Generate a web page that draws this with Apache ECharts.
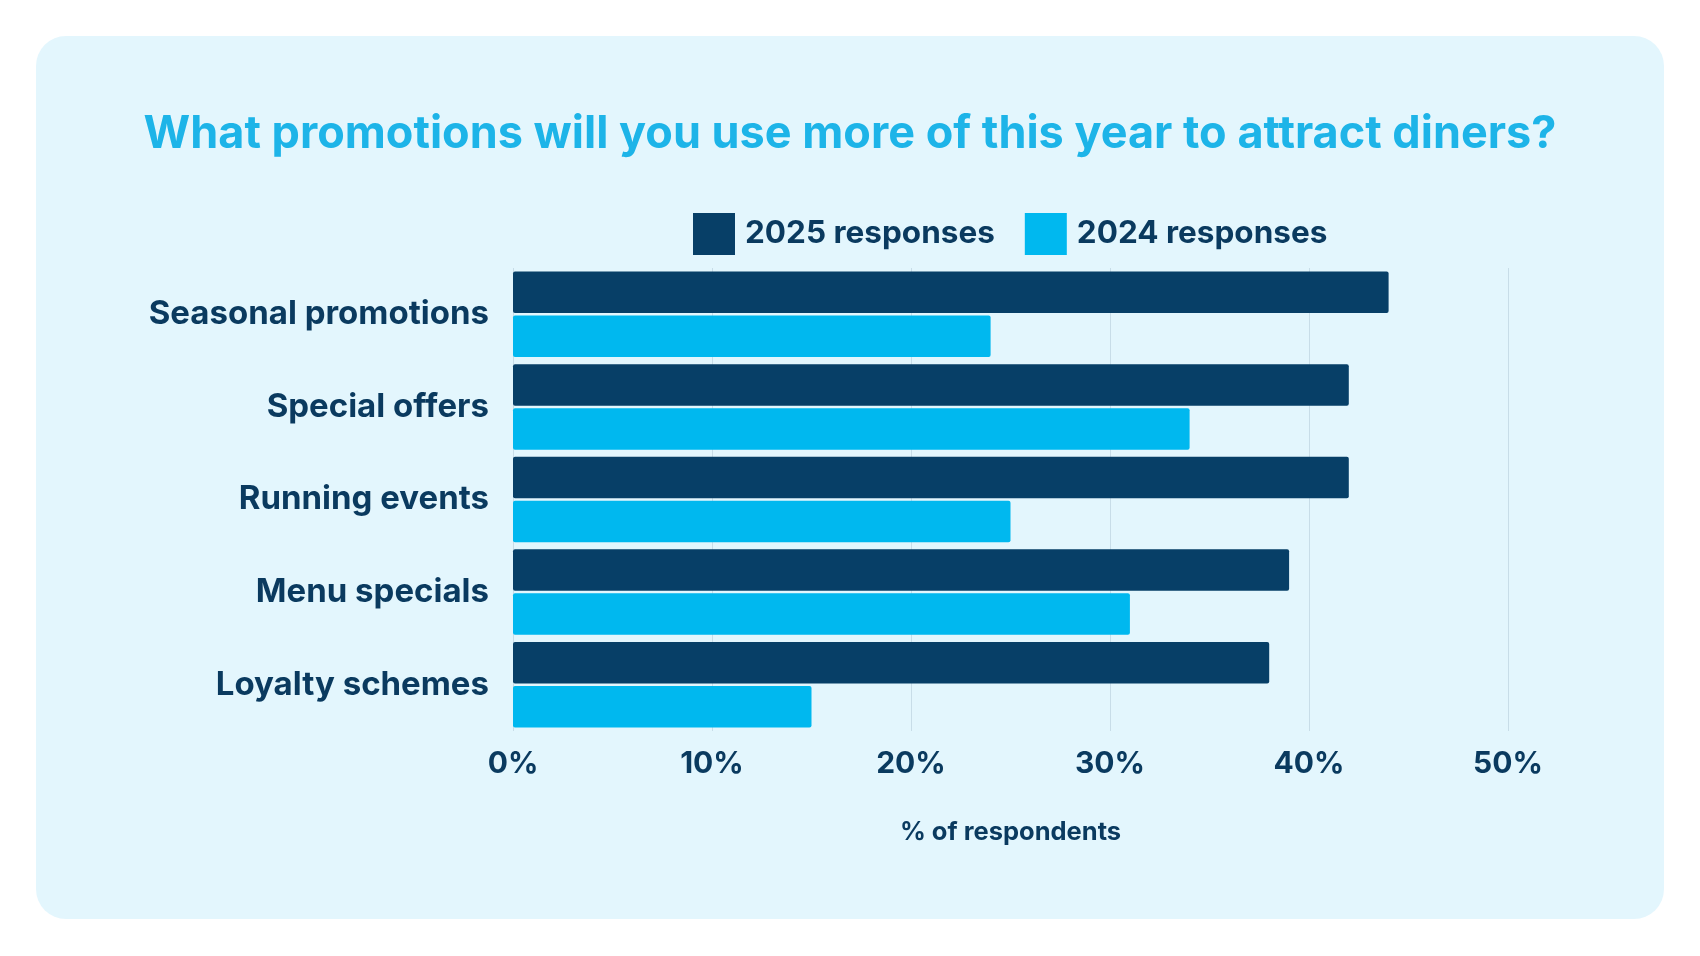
<!DOCTYPE html>
<html>
<head>
<meta charset="utf-8">
<script src="https://cdn.jsdelivr.net/npm/echarts@6/dist/echarts.min.js"></script>
<style>
  html, body { margin: 0; padding: 0; background: #ffffff; }
  #chart { width: 1700px; height: 956px; }
</style>
</head>
<body>
<div id="chart"></div>
<script>
// categories, top to bottom
var categories = ['Seasonal promotions', 'Special offers', 'Running events', 'Menu specials', 'Loyalty schemes'];
// % of respondents
var values2025 = [44, 42, 42, 39, 38];
var values2024 = [24, 34, 25, 31, 15];
var seriesNames = ['2025 responses', '2024 responses'];
var xTicks = [0, 10, 20, 30, 40, 50];

var navy = '#073F67';
var sky = '#00B8EF';
var textColor = '#0A3A5F';
var font = 'Inter';

var myChart = echarts.init(document.getElementById('chart'));

myChart.setOption({
  backgroundColor: '#ffffff',
  animation: false,
  graphic: [{
    type: 'rect',
    z: -10,
    shape: { x: 36, y: 36, width: 1628, height: 883, r: 30 },
    style: { fill: '#E3F6FD' }
  }],
  title: {
    text: 'What promotions will you use more of this year to attract diners?',
    left: 'center',
    top: 107,
    textStyle: {
      fontFamily: font,
      fontWeight: 'bold',
      fontSize: 45,
      color: '#1DB4E8'
    }
  },
  legend: {
    data: seriesNames,
    left: 688,
    top: 208,
    itemWidth: 42,
    itemHeight: 42,
    itemGap: 30,
    icon: 'rect',
    textStyle: {
      fontFamily: font,
      fontWeight: 'bold',
      fontSize: 31.5,
      color: textColor,
      padding: [0, 0, 0, 5]
    }
  },
  grid: {
    left: 513,
    right: 192,
    top: 268,
    height: 463,
    containLabel: false
  },
  xAxis: {
    type: 'value',
    min: xTicks[0],
    max: xTicks[xTicks.length - 1],
    interval: 10,
    name: '% of respondents',
    nameLocation: 'middle',
    nameGap: 88,
    nameTextStyle: {
      fontFamily: font,
      fontWeight: 'bold',
      fontSize: 25.5,
      color: textColor
    },
    axisLine: { show: false },
    axisTick: { show: false },
    axisLabel: {
      formatter: '{value}%',
      margin: 18,
      fontFamily: font,
      fontWeight: 'bold',
      fontSize: 30,
      color: textColor
    },
    splitLine: {
      show: true,
      lineStyle: { color: '#C8DDE8', width: 1 }
    }
  },
  yAxis: {
    type: 'category',
    data: categories,
    inverse: true,
    axisLine: { show: false },
    axisTick: { show: false },
    axisLabel: {
      margin: 24,
      fontFamily: font,
      fontWeight: 'bold',
      fontSize: 33,
      color: textColor
    }
  },
  series: [{
    name: seriesNames[0],
    type: 'bar',
    data: values2025,
    barWidth: 41.5,
    barGap: '6%',
    itemStyle: { color: navy, borderRadius: 2 }
  }, {
    name: seriesNames[1],
    type: 'bar',
    data: values2024,
    barWidth: 41.5,
    itemStyle: { color: sky, borderRadius: 2 }
  }]
});
</script>
</body>
</html>
